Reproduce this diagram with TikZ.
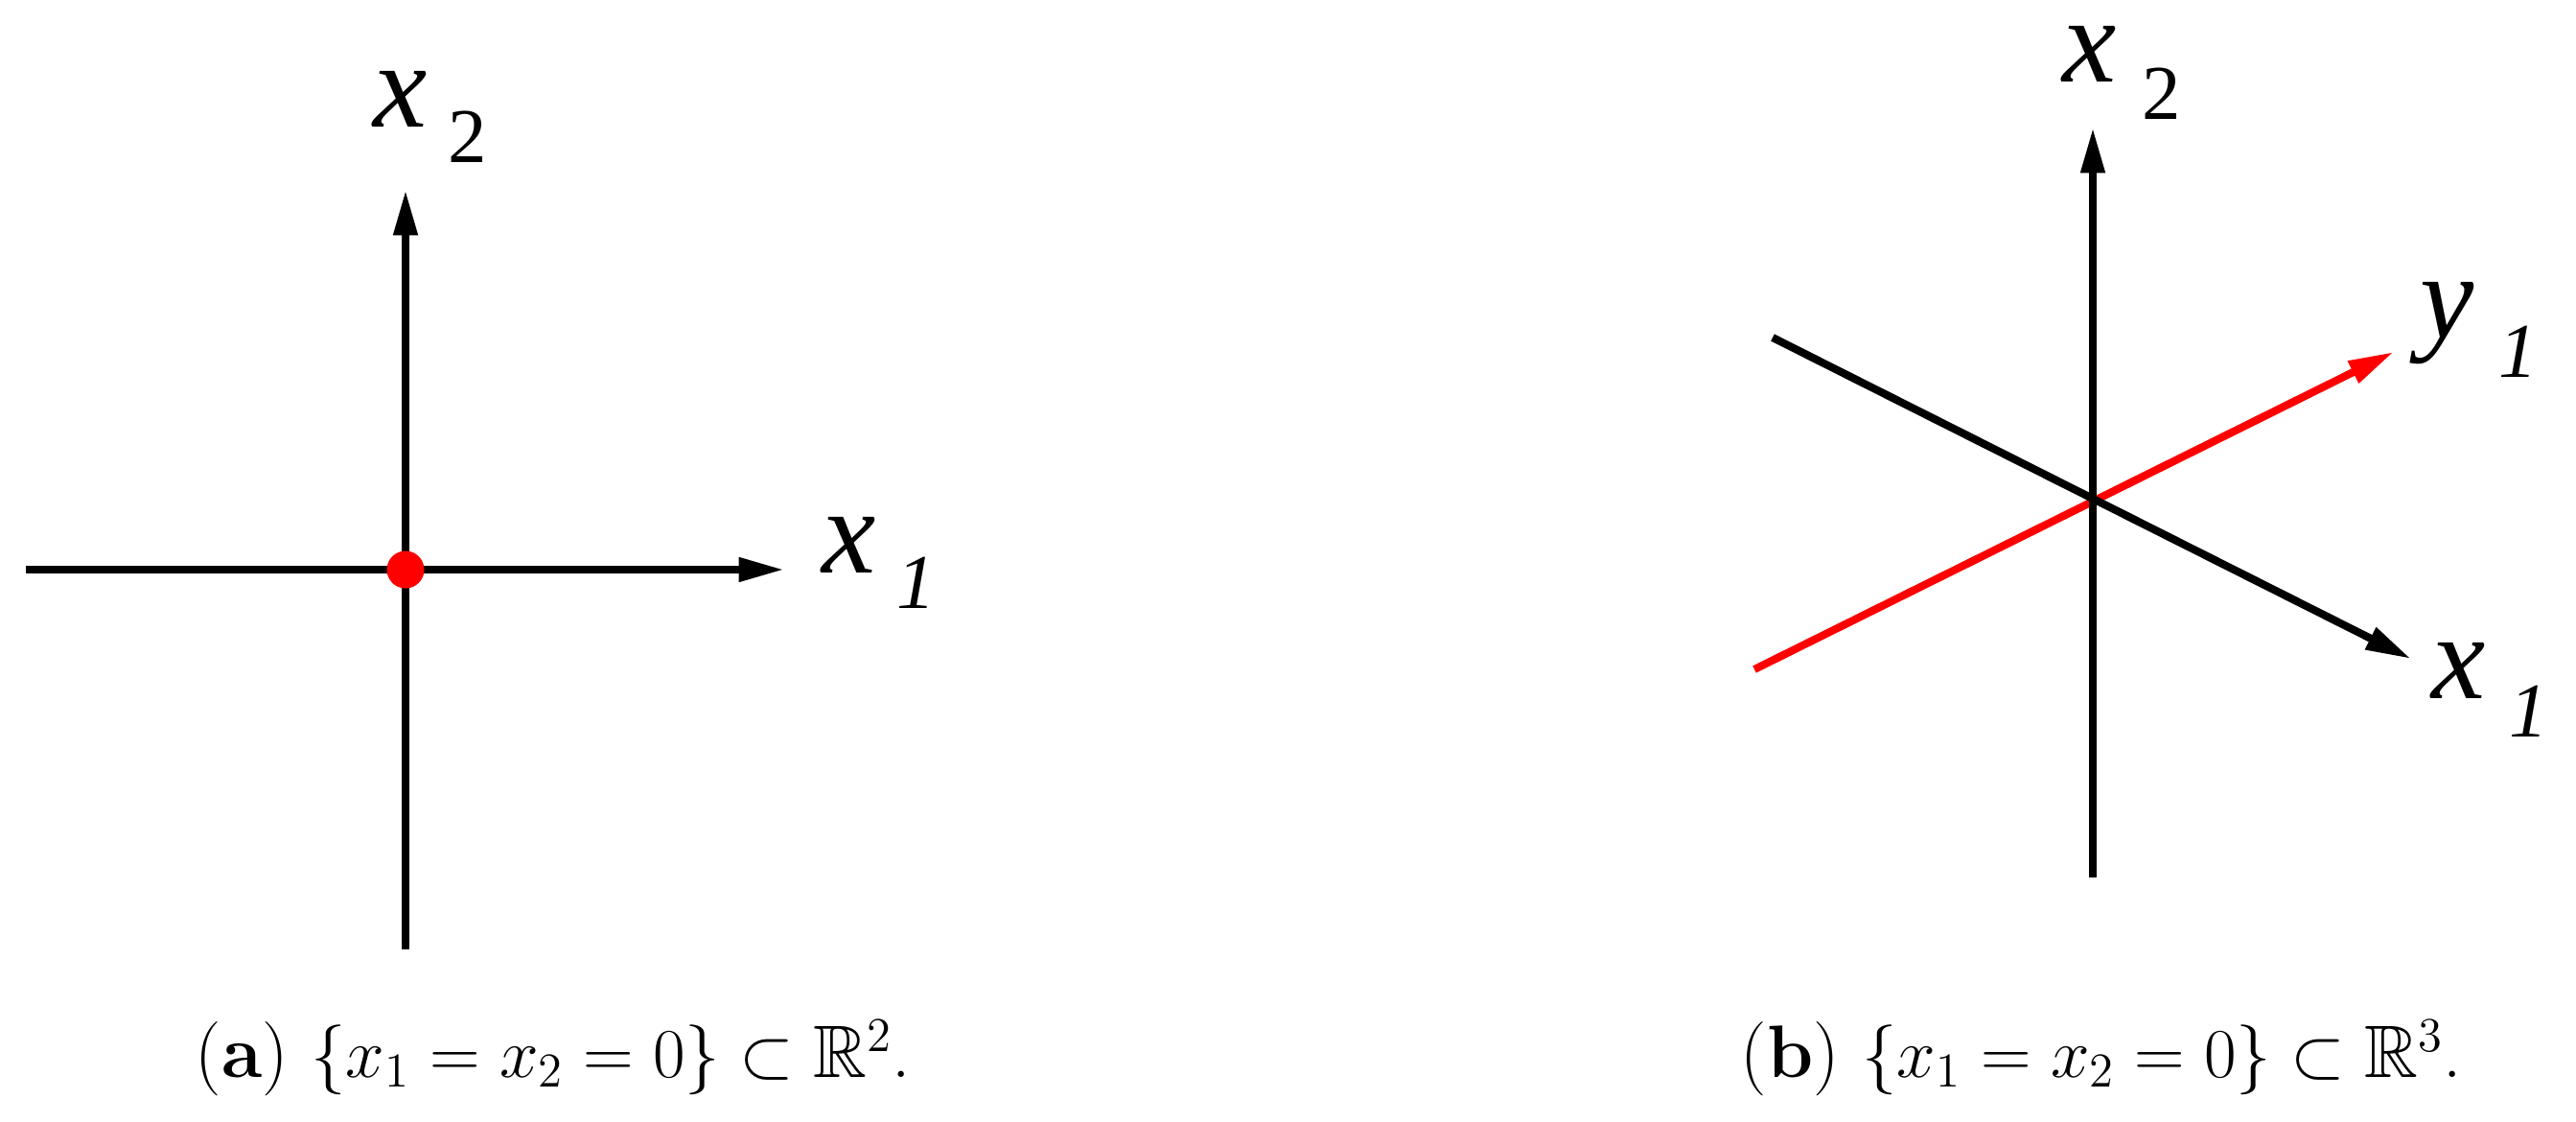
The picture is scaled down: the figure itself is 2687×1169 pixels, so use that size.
\documentclass[tikz,border=0pt]{standalone}
\usepackage{fontspec}
\usepackage{amssymb}
\usetikzlibrary{arrows.meta}
\newfontfamily\labfont{Liberation Serif}[ItalicFont={Liberation Serif Italic}]
\begin{document}
\begin{tikzpicture}[x={(0.01cm,0)}, y={(0,-0.01cm)},
  axis/.style={line width=2.3pt, -{Triangle[length=13.5pt,width=6.8pt]}},
  lab/.style={font=\labfont\fontsize{36}{40}\selectfont, inner sep=0pt, anchor=base},
  sublab/.style={font=\labfont\fontsize{23}{26}\selectfont, inner sep=0pt, anchor=base},
  dot/.style={circle, fill=red, draw=none, inner sep=0pt, minimum size=11.1pt},
  capt/.style={font=\fontsize{22}{26}\selectfont, inner sep=0pt, anchor=base}]
\useasboundingbox (0,0) rectangle (2687,1169);

% ---------- panel (a)
\coordinate (aL) at (27,594);
\coordinate (aR) at (818,594);
\coordinate (aB) at (423,990);
\coordinate (aT) at (423,198);
\coordinate (aO) at (423,594);
\draw[axis] (aL) -- (aR);
\draw[axis] (aB) -- (aT);
\node[dot] (dotA) at (aO) {};
\node[lab] (ax2) at (418,132) {\itshape x};
\node[sublab] (ax2s) at (488,169) {2};
\node[lab] (ax1) at (886,597) {\itshape x};
\node[sublab] (ax1s) at (956,634) {\itshape 1};
\node[capt] (capA) at (577,1123) {(\textbf{a}) $\{x_1 = x_2 = 0\} \subset \mathbb{R}^2$.};

% ---------- panel (b)
\coordinate (bB) at (2183,915);
\coordinate (bT) at (2183,133);
\coordinate (bBL) at (1849,352);
\coordinate (bX1) at (2515,687);
\coordinate (bRL) at (1830,698);
\coordinate (bY1) at (2497,367);
\draw[axis, red] (bRL) -- (bY1);
\draw[axis] (bB) -- (bT);
\draw[axis] (bBL) -- (bX1);
\node[lab] (bx2) at (2180,85) {\itshape x};
\node[sublab] (bx2s) at (2255,124) {2};
\node[lab] (by1) at (2553,352) {\itshape y};
\node[sublab] (by1s) at (2627,393) {\itshape 1};
\node[lab] (bx1) at (2565,728) {\itshape x};
\node[sublab] (bx1s) at (2638,768) {\itshape 1};
\node[capt] (capB) at (2192,1123) {(\textbf{b}) $\{x_1 = x_2 = 0\} \subset \mathbb{R}^3$.};
\end{tikzpicture}
\end{document}
